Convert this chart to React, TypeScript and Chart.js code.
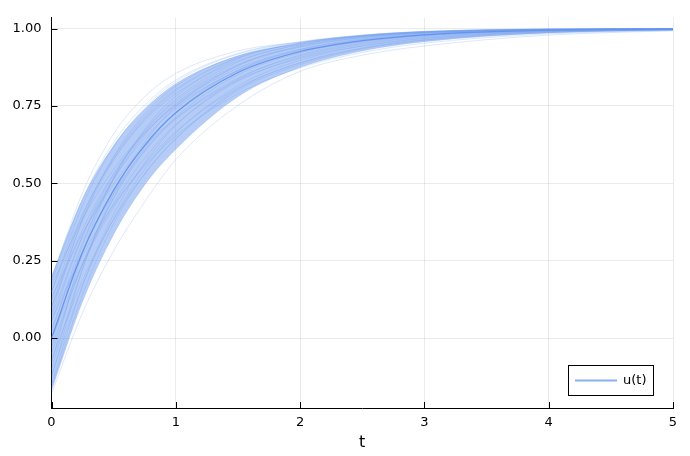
import React, { useEffect, useRef } from "react";
import { Chart, registerables } from "chart.js";

Chart.register(...registerables);

// time samples
const T = [0, 0.25, 0.5, 0.75, 1, 1.5, 2, 2.5, 3, 4, 5];

// ensemble trajectories u(t)
const U_01 = [0.2, 0.45, 0.622, 0.74, 0.822, 0.912, 0.952, 0.976, 0.989, 0.998, 1.0];
const U_02 = [0.18, 0.45, 0.632, 0.753, 0.834, 0.92, 0.958, 0.979, 0.991, 0.999, 1.0];
const U_03 = [0.15, 0.401, 0.578, 0.703, 0.79, 0.896, 0.948, 0.974, 0.987, 0.997, 0.999];
const U_04 = [0.12, 0.395, 0.584, 0.714, 0.804, 0.907, 0.953, 0.977, 0.99, 0.998, 0.999];
const U_05 = [0.1, 0.35, 0.53, 0.661, 0.755, 0.872, 0.933, 0.965, 0.982, 0.995, 0.999];
const U_06 = [0.08, 0.383, 0.587, 0.723, 0.814, 0.912, 0.955, 0.978, 0.99, 0.998, 1.0];
const U_07 = [0.05, 0.331, 0.528, 0.668, 0.766, 0.884, 0.942, 0.971, 0.986, 0.996, 0.999];
const U_08 = [0.03, 0.281, 0.468, 0.606, 0.708, 0.84, 0.912, 0.952, 0.974, 0.992, 0.998];
const U_10 = [-0.02, 0.299, 0.518, 0.669, 0.772, 0.892, 0.949, 0.976, 0.989, 0.997, 0.999];
const U_11 = [-0.05, 0.241, 0.452, 0.604, 0.714, 0.851, 0.922, 0.959, 0.979, 0.994, 0.998];
const U_12 = [-0.07, 0.187, 0.383, 0.531, 0.644, 0.8, 0.884, 0.934, 0.962, 0.987, 0.996];
const U_13 = [-0.1, 0.225, 0.454, 0.615, 0.729, 0.865, 0.933, 0.967, 0.984, 0.996, 0.999];
const U_14 = [-0.12, 0.17, 0.385, 0.545, 0.663, 0.815, 0.898, 0.944, 0.969, 0.991, 0.997];
const U_15 = [-0.15, 0.169, 0.4, 0.566, 0.687, 0.836, 0.915, 0.955, 0.977, 0.994, 0.998];
const U_16 = [-0.17, 0.118, 0.335, 0.495, 0.61, 0.78, 0.875, 0.928, 0.958, 0.986, 0.995];
const U_17 = [-0.18, 0.082, 0.282, 0.44, 0.577, 0.752, 0.862, 0.914, 0.944, 0.979, 0.993];
const U_18 = [0.13, 0.339, 0.498, 0.619, 0.71, 0.833, 0.904, 0.944, 0.968, 0.989, 0.996];
const U_19 = [0.06, 0.268, 0.43, 0.556, 0.654, 0.79, 0.873, 0.923, 0.953, 0.983, 0.994];
const U_20 = [-0.08, 0.276, 0.515, 0.675, 0.782, 0.902, 0.953, 0.978, 0.99, 0.998, 1.0];
const U_21 = [0.17, 0.385, 0.545, 0.663, 0.75, 0.863, 0.925, 0.959, 0.977, 0.993, 0.998];
const U_22 = [-0.13, 0.223, 0.466, 0.633, 0.748, 0.881, 0.944, 0.973, 0.987, 0.997, 0.999];
const U_23 = [0.02, 0.309, 0.513, 0.657, 0.758, 0.88, 0.94, 0.97, 0.985, 0.996, 0.999];
const U_24 = [-0.03, 0.237, 0.435, 0.581, 0.69, 0.83, 0.907, 0.949, 0.972, 0.992, 0.997];
const U_25 = [0.1, 0.381, 0.575, 0.708, 0.799, 0.905, 0.953, 0.977, 0.99, 0.998, 0.999];
const U_26 = [0.0, 0.24, 0.423, 0.562, 0.667, 0.808, 0.889, 0.936, 0.963, 0.988, 0.996];
const U_27 = [0.15, 0.43, 0.618, 0.744, 0.828, 0.918, 0.956, 0.979, 0.991, 0.999, 1.0];
const U_28 = [0.19, 0.47, 0.66, 0.78, 0.855, 0.928, 0.956, 0.976, 0.988, 0.997, 1.0];
const U_29 = [-0.16, 0.14, 0.37, 0.53, 0.645, 0.805, 0.89, 0.938, 0.965, 0.99, 0.997];
const U_30 = [0.07, 0.33, 0.515, 0.646, 0.742, 0.865, 0.93, 0.963, 0.981, 0.995, 0.999];

const RUNS = [
  U_01, U_02, U_03, U_04, U_05, U_06, U_07, U_08, U_10, U_11, U_12, U_13, U_14, U_15,
  U_16, U_17, U_18, U_19, U_20, U_21, U_22, U_23, U_24, U_25, U_26, U_27, U_28, U_29, U_30,
];

// mean trajectory (darker line)
const U_MEAN = [0.0, 0.278, 0.478, 0.623, 0.728, 0.858, 0.926, 0.961, 0.98, 0.995, 0.998];

// dense band edges
const BAND_UPPER = U_01;
const BAND_LOWER = U_16;

const X_TICKS = [0, 1, 2, 3, 4, 5];
const Y_TICKS = [0, 0.25, 0.5, 0.75, 1.0];
const SERIES_LABEL = "u(t)";
const X_TITLE = "t";

const pts = (ys: number[]) => T.map((t, i) => ({ x: t, y: ys[i] }));

const BLUE = "100,149,237";
const FONT = "'DejaVu Sans'";

const extrasPlugin = {
  id: "extras",
  afterDraw(chart: any) {
    const ctx = chart.ctx;
    const xs = chart.scales.x;
    const ys = chart.scales.y;
    const area = chart.chartArea;
    ctx.save();
    ctx.strokeStyle = "#000";
    ctx.lineWidth = 1;
    ctx.beginPath();
    for (const v of Y_TICKS) {
      const py = Math.round(ys.getPixelForValue(v)) + 0.5;
      ctx.moveTo(area.left, py);
      ctx.lineTo(area.left + 6, py);
    }
    for (const v of X_TICKS) {
      const px = Math.round(xs.getPixelForValue(v)) + 0.5;
      ctx.moveTo(px, area.bottom);
      ctx.lineTo(px, area.bottom - 6);
    }
    ctx.stroke();
    // legend box inside plot, bottom right
    const bx = 568.5, by = 365.5, bw = 85, bh = 30;
    ctx.fillStyle = "#fff";
    ctx.fillRect(bx, by, bw, bh);
    ctx.strokeStyle = "#000";
    ctx.lineWidth = 1;
    ctx.strokeRect(bx, by, bw, bh);
    ctx.strokeStyle = `rgba(${BLUE},0.75)`;
    ctx.lineWidth = 1.8;
    ctx.beginPath();
    ctx.moveTo(575, by + 15);
    ctx.lineTo(617, by + 15);
    ctx.stroke();
    ctx.fillStyle = "#000";
    ctx.font = `13px ${FONT}`;
    ctx.textBaseline = "middle";
    ctx.textAlign = "left";
    ctx.fillText(SERIES_LABEL, 623, by + 15);
    ctx.restore();
  },
};

export default function App() {
  const ref = useRef<HTMLCanvasElement | null>(null);
  useEffect(() => {
    document.body.style.margin = "0";
    const datasets: any[] = [];
    datasets.push({
      label: "band-upper",
      data: pts(BAND_UPPER),
      borderWidth: 0,
      borderColor: "rgba(0,0,0,0)",
      backgroundColor: `rgba(${BLUE},0.48)`,
      fill: "+1",
      pointRadius: 0,
      cubicInterpolationMode: "monotone",
    });
    datasets.push({
      label: "band-lower",
      data: pts(BAND_LOWER),
      borderWidth: 0,
      borderColor: "rgba(0,0,0,0)",
      fill: false,
      pointRadius: 0,
      cubicInterpolationMode: "monotone",
    });
    RUNS.forEach((r, i) => {
      datasets.push({
        label: "run" + i,
        data: pts(r),
        borderColor: `rgba(${BLUE},0.22)`,
        borderWidth: 1,
        fill: false,
        pointRadius: 0,
        cubicInterpolationMode: "monotone",
      });
    });
    datasets.push({
      label: SERIES_LABEL,
      data: pts(U_MEAN),
      borderColor: "rgba(75,130,235,0.85)",
      borderWidth: 1.2,
      fill: false,
      pointRadius: 0,
      cubicInterpolationMode: "monotone",
    });

    const chart = new Chart(ref.current as HTMLCanvasElement, {
      type: "line",
      data: { datasets },
      options: {
        animation: false,
        responsive: true,
        maintainAspectRatio: false,
        layout: { padding: { left: 0, right: 17, top: 13, bottom: 0 } },
        plugins: { legend: { display: false }, tooltip: { enabled: false } },
        scales: {
          x: {
            type: "linear",
            min: 0,
            max: 5,
            afterBuildTicks: (s: any) => {
              s.ticks = X_TICKS.map((v) => ({ value: v }));
            },
            afterFit: (s: any) => {
              s.height = 48;
            },
            grid: { color: "rgba(0,0,0,0.08)", drawTicks: false },
            border: { display: true, color: "#000", width: 1 },
            ticks: {
              padding: 7,
              color: "#000",
              font: { family: FONT, size: 13 },
              callback: (v: any) => String(v),
            },
            title: {
              display: true,
              text: X_TITLE,
              color: "#000",
              font: { family: FONT, size: 16 },
              padding: { top: 4, bottom: 4 },
            },
          },
          y: {
            type: "linear",
            min: -0.226,
            max: 1.035,
            afterBuildTicks: (s: any) => {
              s.ticks = Y_TICKS.map((v) => ({ value: v }));
            },
            afterFit: (s: any) => {
              s.width = 51.5;
            },
            grid: { color: "rgba(0,0,0,0.08)", drawTicks: false },
            border: { display: true, color: "#000", width: 1 },
            ticks: {
              padding: 10,
              color: "#000",
              font: { family: FONT, size: 13 },
              callback: (v: any) => Number(v).toFixed(2),
            },
          },
        },
      },
      plugins: [extrasPlugin],
    });
    return () => chart.destroy();
  }, []);
  return (
    <div style={{ width: 690, height: 456, position: "relative" }}>
      <canvas ref={ref} />
    </div>
  );
}
